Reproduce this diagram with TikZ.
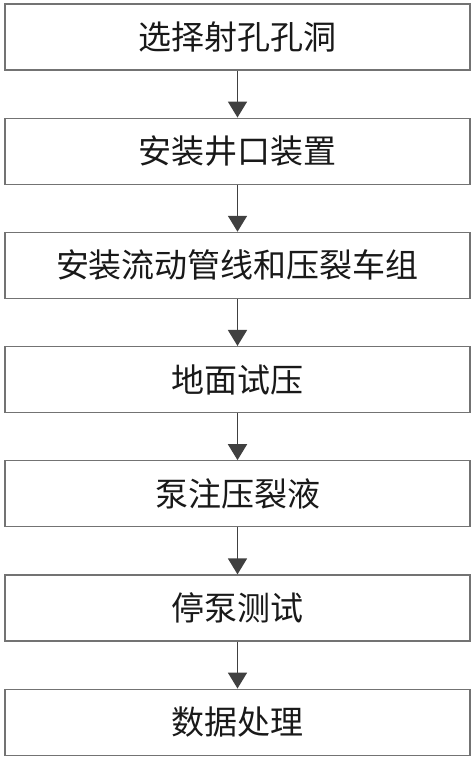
\documentclass[tikz,border=0pt]{standalone}
\usepackage{fontspec}
\newfontfamily\cjk{Noto Sans CJK SC}
\usetikzlibrary{arrows.meta}
\begin{document}
\begin{tikzpicture}[x=1pt,y=-1pt,
  stepbox/.style={draw=black!55,line width=1.3pt,minimum width=465pt,minimum height=66pt,inner sep=0pt,font=\cjk\fontsize{33}{35}\selectfont,text=black!90},
  flow/.style={draw=black!75,line width=1.8pt,-{Triangle[length=16pt,width=19pt]}}]
\useasboundingbox (0,0) rectangle (474,758);
\node[stepbox] (s1) at (237.5,37) {选择射孔孔洞};
\node[stepbox] (s2) at (237.5,151.2) {安装井口装置};
\node[stepbox] (s3) at (237.5,265.4) {安装流动管线和压裂车组};
\node[stepbox] (s4) at (237.5,379.6) {地面试压};
\node[stepbox] (s5) at (237.5,493.8) {泵注压裂液};
\node[stepbox] (s6) at (237.5,608) {停泵测试};
\node[stepbox] (s7) at (237.5,722.2) {数据处理};
\foreach \a/\b in {s1/s2,s2/s3,s3/s4,s4/s5,s5/s6,s6/s7}
  \draw[flow] (\a) -- (\b);
\end{tikzpicture}
\end{document}
